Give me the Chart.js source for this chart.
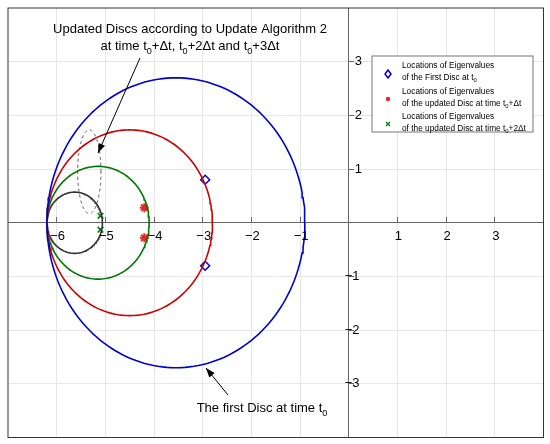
<!DOCTYPE html>
<html><head><script src="https://cdn.jsdelivr.net/npm/chart.js"></script>
<style>body{margin:0;background:#fff}#w{width:550px;height:444px}</style></head>
<body><div id="w"><canvas id="c"></canvas></div>
<script>
// Disc geometry (centre x, centre y, radius x, radius y)
const discNames=['First disc t0','Updated t0+Δt','Updated t0+2Δt','Updated t0+3Δt','Dashed'];
const discCx=[-3.55,-4.5,-5.15,-5.63,-5.33];
const discCy=[0,0,0,0,0.95];
const discRx=[2.65,1.7,1.05,0.57,0.24];
const discRy=[2.7,1.73,1.05,0.57,0.78];
const discColors=['#0000cc','#cc0000','#007700','#333333','#555555'];
const discDash=[[],[],[],[],[3,3]];
const eigBlueX=[-2.95,-2.95], eigBlueY=[0.8,-0.8];
const eigRedX=[-4.2,-4.2], eigRedY=[0.28,-0.28];
const eigGreenX=[-5.1,-5.1], eigGreenY=[0.13,-0.13];
const xTicks=[-6,-5,-4,-3,-2,-1,1,2,3];
const yTicks=[-3,-2,-1,1,2,3];
function ring(i){const p=[];for(let k=0;k<=180;k++){const t=k/180*2*Math.PI;p.push({x:discCx[i]+discRx[i]*Math.cos(t),y:discCy[i]+discRy[i]*Math.sin(t)});}return p;}
const ds=discNames.map((n,i)=>({label:n,data:ring(i),showLine:true,borderColor:discColors[i],borderWidth:i==4?1:1.6,borderDash:discDash[i],pointRadius:0,fill:false}));
const zip=(a,b)=>a.map((v,i)=>({x:v,y:b[i]}));
ds.push({label:'b',data:zip(eigBlueX,eigBlueY),pointStyle:'rectRot',pointRadius:4.5,borderColor:'#0000cc',backgroundColor:'rgba(0,0,0,0)',borderWidth:1.5});
ds.push({label:'r',data:zip(eigRedX,eigRedY),pointStyle:'star',pointRadius:4.5,borderColor:'#ee2222',borderWidth:2});
ds.push({label:'g',data:zip(eigGreenX,eigGreenY),pointStyle:'crossRot',pointRadius:4,borderColor:'#007700',borderWidth:1.5});
function sub(ctx,parts,x,y,size){
  let cx=x;parts.forEach(([t,s])=>{ctx.font=(s?size*0.7:size)+'px Arial';ctx.fillText(t,cx,y+(s?size*0.3:0));cx+=ctx.measureText(t).width;});}
function width(ctx,parts,size){let w=0;parts.forEach(([t,s])=>{ctx.font=(s?size*0.7:size)+'px Arial';w+=ctx.measureText(t).width;});return w;}
function arrow(ctx,x1,y1,x2,y2){ctx.strokeStyle='#000';ctx.lineWidth=1;ctx.beginPath();ctx.moveTo(x1,y1);ctx.lineTo(x2,y2);ctx.stroke();
 const a=Math.atan2(y2-y1,x2-x1),L=10,W=0.35;ctx.fillStyle='#000';ctx.beginPath();ctx.moveTo(x2,y2);ctx.lineTo(x2-L*Math.cos(a-W),y2-L*Math.sin(a-W));ctx.lineTo(x2-L*Math.cos(a+W),y2-L*Math.sin(a+W));ctx.closePath();ctx.fill();}
const deco={id:'deco',afterDraw(c){const ctx=c.ctx,a=c.chartArea,xs=c.scales.x,ys=c.scales.y;ctx.save();
 ctx.strokeStyle='#333';ctx.lineWidth=1;ctx.strokeRect(a.left,a.top,a.right-a.left,a.bottom-a.top);
 // tick labels
 const x0=xs.getPixelForValue(0),y0=ys.getPixelForValue(0);
 ctx.fillStyle='#000';ctx.font='13px Arial';ctx.textAlign='center';ctx.textBaseline='top';
 xTicks.forEach(v=>ctx.fillText(String(v).replace('-','\u2212'),xs.getPixelForValue(v)+1,y0+7));
 ctx.textAlign='left';ctx.textBaseline='middle';
 yTicks.forEach(v=>ctx.fillText(String(v).replace('-','\u2212'),x0+(v<0?-4:6),ys.getPixelForValue(v)));
 ctx.textAlign='left';ctx.textBaseline='alphabetic';
 let p1=[['Updated Discs according to Update Algorithm 2',0]];
 let p2=[['at time t',0],['0',1],['+Δt, t',0],['0',1],['+2Δt and t',0],['0',1],['+3Δt',0]];
 sub(ctx,p1,190-width(ctx,p1,13)/2,33,13);sub(ctx,p2,190-width(ctx,p2,13)/2,50,13);
 arrow(ctx,140,58,98,153);
 let p3=[['The first Disc at time t',0],['0',1]];sub(ctx,p3,262-width(ctx,p3,13)/2,412,13);
 arrow(ctx,228,395,206,368);
 const lx=372,ly=56;ctx.fillStyle='#fff';ctx.fillRect(lx,ly,161,76);ctx.strokeStyle='#777';ctx.strokeRect(lx,ly,161,76);
 ctx.fillStyle='#000';const fs=8.3;
 sub(ctx,[['Locations of Eigenvalues',0]],lx+30,ly+12,fs);sub(ctx,[['of the First Disc at t',0],['0',1]],lx+30,ly+24,fs);
 sub(ctx,[['Locations of Eigenvalues',0]],lx+30,ly+38,fs);sub(ctx,[['of the updated Disc at time t',0],['0',1],['+Δt',0]],lx+30,ly+50,fs);
 sub(ctx,[['Locations of Eigenvalues',0]],lx+30,ly+63,fs);sub(ctx,[['of the updated Disc at time t',0],['0',1],['+2Δt',0]],lx+30,ly+75,fs);
 ctx.strokeStyle='#0000cc';ctx.lineWidth=1.5;ctx.beginPath();ctx.moveTo(lx+16,ly+14);ctx.lineTo(lx+19,ly+18);ctx.lineTo(lx+16,ly+22);ctx.lineTo(lx+13,ly+18);ctx.closePath();ctx.stroke();
 ctx.fillStyle='#ee2222';ctx.beginPath();ctx.arc(lx+16,ly+43,2.2,0,7);ctx.fill();
 ctx.strokeStyle='#007700';ctx.lineWidth=1.2;ctx.beginPath();ctx.moveTo(lx+14,ly+66);ctx.lineTo(lx+18,ly+70);ctx.moveTo(lx+18,ly+66);ctx.lineTo(lx+14,ly+70);ctx.stroke();
 ctx.restore();}};
new Chart(document.getElementById('c'),{type:'scatter',data:{datasets:ds},plugins:[deco],
options:{responsive:true,maintainAspectRatio:false,animation:false,layout:{padding:{left:8,right:5,top:8,bottom:6}},
plugins:{legend:{display:false},tooltip:{enabled:false}},
scales:{x:{type:'linear',min:-7,max:4,position:{y:0},afterBuildTicks:s=>{s.ticks=xTicks.map(v=>({value:v}));},
  grid:{color:'#e6e6e6',tickLength:-6,tickColor:'#666'},border:{color:'#666'},ticks:{display:false}},
 y:{type:'linear',min:-4,max:4,position:{x:0},afterBuildTicks:s=>{s.ticks=yTicks.map(v=>({value:v}));},
  grid:{color:'#e6e6e6',tickLength:-6,tickColor:'#666'},border:{color:'#666'},ticks:{display:false}}}}});
</script></body></html>
